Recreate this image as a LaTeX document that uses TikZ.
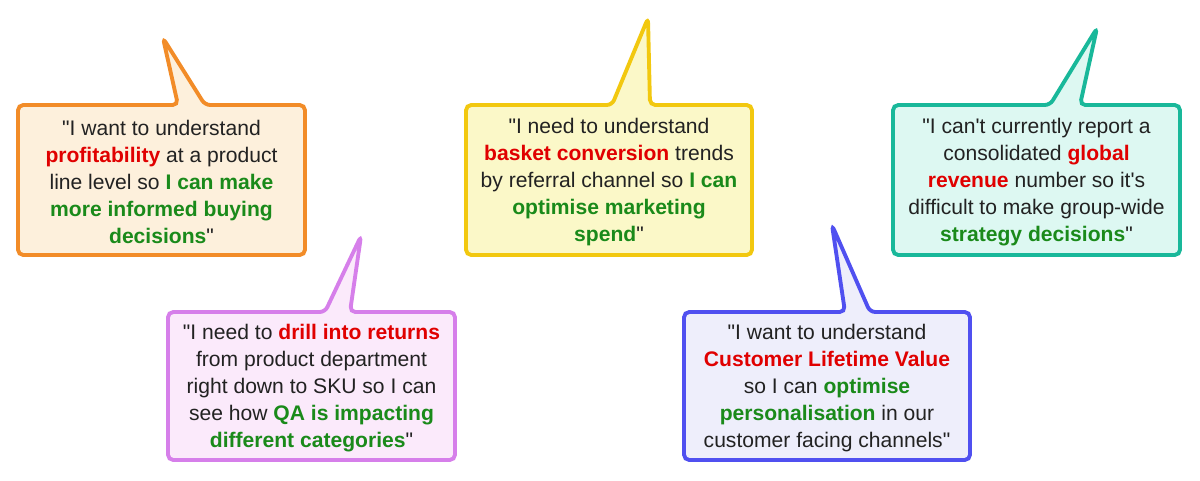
\documentclass[tikz,border=0pt]{standalone}
\usepackage{fontspec}
\setmainfont[Ligatures=TeXOff]{Liberation Sans}
\definecolor{txt}{HTML}{222222}
\definecolor{rd}{HTML}{E00000}
\definecolor{gr}{HTML}{1A8A1A}
\definecolor{oF}{HTML}{FDF0DC}\definecolor{oB}{HTML}{F28C28}
\definecolor{pF}{HTML}{FBEAFB}\definecolor{pB}{HTML}{D67FEA}
\definecolor{yF}{HTML}{FBF8C8}\definecolor{yB}{HTML}{F2C80F}
\definecolor{bF}{HTML}{EEEEFB}\definecolor{bB}{HTML}{5050F0}
\definecolor{tF}{HTML}{DDF8F2}\definecolor{tB}{HTML}{19B89A}
\newcommand{\R}[1]{\textcolor{rd}{\bfseries #1}}
\newcommand{\G}[1]{\textcolor{gr}{\bfseries #1}}
\newcommand{\q}{\symbol{34}}
\newcommand{\ap}{\symbol{39}}
% x1 y1 x2 y2 baseL baseR tipx tipy fill border
\newcommand{\bubble}[9]{%
\draw[line width=2.2pt,rounded corners=3pt,fill=#9F,draw=#9B] (#1,-#4) -- (#3,-#4) -- (#3,-#2) -- (#6,-#2) -- (#7,-#8) -- (#5,-#2) -- (#1,-#2) -- cycle;}
\tikzset{lbl/.style={text=txt,font=\fontsize{12pt}{15.3pt}\selectfont,align=center,inner sep=0pt}}
\begin{document}
\begin{tikzpicture}[x=0.02cm,y=0.02cm]
\useasboundingbox (0,0) rectangle (1200,-480);
\bubble{18}{105}{305}{255}{178}{205}{163}{38}{o}
\bubble{168}{312}{455}{460}{325}{350}{361}{236}{p}
\bubble{466}{105}{752}{255}{612}{650}{648}{18}{y}
\bubble{684}{312}{970}{460}{845}{870}{832}{225}{b}
\bubble{893}{105}{1180}{255}{1050}{1080}{1097}{28}{t}
\node[lbl] (a) at (161.5,-182) {\q I want to understand\\\R{profitability} at a product\\line level so \G{I can make}\\\G{more informed buying}\\\G{decisions}\q};
\node[lbl] (b) at (311.5,-388) {\q I need to \R{drill into returns}\\from product department\\right down to SKU so I can\\see how \G{QA is impacting}\\\G{different categories}\q};
\node[lbl] (c) at (609,-182) {\q I need to understand\\\R{basket conversion} trends\\by referral channel so \G{I can}\\\G{optimise marketing}\\\G{spend}\q};
\node[lbl] (d) at (827,-388) {\q I want to understand\\\R{Customer Lifetime Value}\\so I can \G{optimise}\\\G{personalisation} in our\\customer facing channels\q};
\node[lbl] (e) at (1036.5,-182) {\q I can\ap t currently report a\\consolidated \R{global}\\\R{revenue} number so it\ap s\\difficult to make group-wide\\\G{strategy decisions}\q};
\end{tikzpicture}
\end{document}
